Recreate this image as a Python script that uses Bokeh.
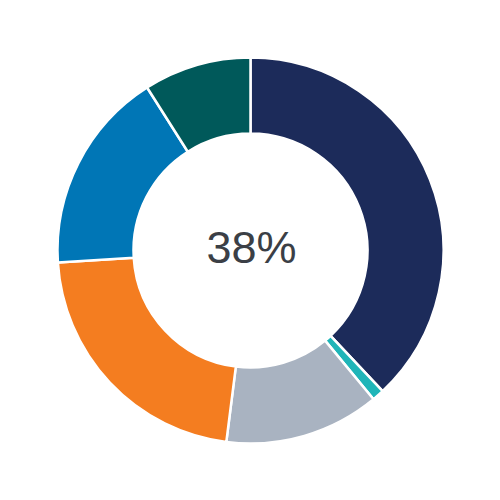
import math
from bokeh.plotting import figure
from bokeh.models import ColumnDataSource
from bokeh.embed import file_html
from bokeh.resources import INLINE
from bokeh.core.properties import value

# segment shares, clockwise from 12 o'clock
shares = [38, 1, 13, 22, 17, 9]
colors = ["#1c2b5a", "#1fb5b8", "#a9b3c1", "#f47d20", "#0076b6", "#00595a"]
center_label = "38%"

total = float(sum(shares))
starts, ends = [], []
acc = 0.0
for s in shares:
    a0 = math.pi / 2 - 2 * math.pi * acc / total
    acc += s
    a1 = math.pi / 2 - 2 * math.pi * acc / total
    starts.append(a0)
    ends.append(a1)

src = ColumnDataSource(dict(start=starts, end=ends, color=colors, share=shares))

# ranges offset so the ring sits at the middle of the 500px window
p = figure(width=484, height=484, x_range=(-250, 234), y_range=(-234, 250),
           output_backend="svg", toolbar_location=None, min_border=0)
p.axis.visible = False
p.grid.visible = False
p.outline_line_color = None
p.background_fill_color = "white"

p.annular_wedge(x=0, y=0, inner_radius=117, outer_radius=193,
                start_angle="start", end_angle="end", direction="clock",
                fill_color="color", line_color="white", line_width=2.5,
                source=src)

p.text(x=[1], y=[3], text=[center_label], text_align="center",
       text_baseline="middle", text_font=value("Liberation Sans"),
       text_font_size="45px", text_color="#3b3f46")

open("out.html", "w").write(file_html(p, INLINE))
